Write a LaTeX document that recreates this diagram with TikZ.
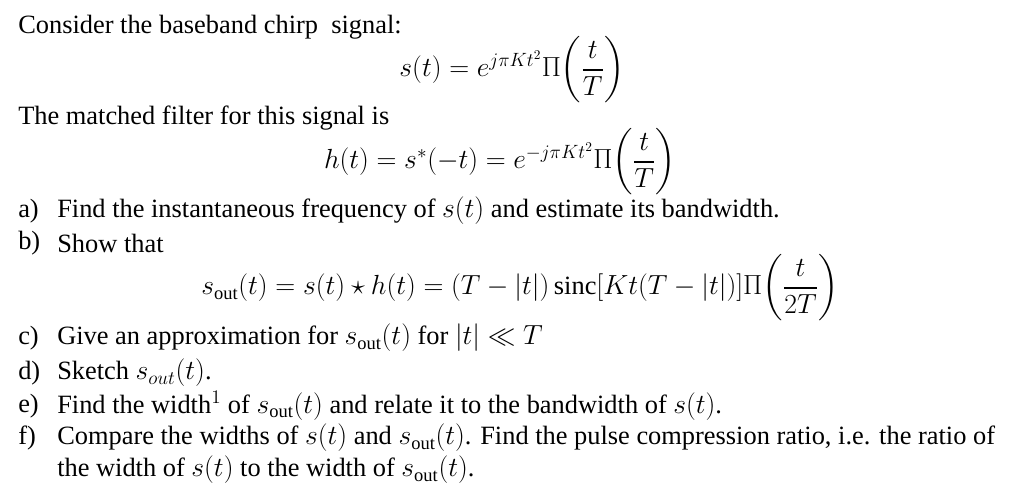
\documentclass[tikz,border=0pt]{standalone}
\usepackage{amsmath}
\usepackage{fontspec}
\setmainfont{Liberation Serif}
\begin{document}
\begin{tikzpicture}[x=0.75pt,y=-0.75pt,
  txt/.style={anchor=west,inner sep=0pt,font=\fontsize{19.8}{22}\selectfont},
  eq/.style={anchor=center,inner sep=0pt,font=\fontsize{19.8}{22}\selectfont}]
\useasboundingbox (0,0) rectangle (1024,491);
\node[txt] (l1) at (18,27) {Consider the baseband chirp\ \ signal:};
\node[eq] (e1) at (512,70) {$s(t)=e^{j\pi Kt^2}\Pi\biggl(\dfrac{t}{T}\biggr)$};
\node[txt] (l2) at (18,118) {The matched filter for this signal is};
\node[eq] (e2) at (500,162) {$h(t)=s^*(-t)=e^{-j\pi Kt^2}\Pi\biggl(\dfrac{t}{T}\biggr)$};
\node[txt] (a) at (18,211) {a)};
\node[txt] (at) at (57,211) {Find the instantaneous frequency of $s(t)$ and estimate its bandwidth.};
\node[txt] (b) at (18,243) {b)};
\node[txt] (bt) at (57,243) {Show that};
\node[eq] (e3) at (520,288) {$s_{\mathrm{out}}(t)=s(t)\star h(t)=(T-|t|)\operatorname{sinc}[Kt(T-|t|)]\Pi\biggl(\dfrac{t}{2T}\biggr)$};
\node[txt] (c) at (18,338) {c)};
\node[txt] (ct) at (57,338) {Give an approximation for $s_{\mathrm{out}}(t)$ for $|t|\ll T$};
\node[txt] (d) at (18,373) {d)};
\node[txt] (dt) at (57,373) {Sketch $s_{out}(t)$.};
\node[txt] (e) at (18,406) {e)};
\node[txt] (et) at (57,406) {Find the width$^{1}$ of $s_{\mathrm{out}}(t)$ and relate it to the bandwidth of $s(t)$.};
\node[txt] (f) at (18,438) {f)};
\node[txt] (ft) at (57,438) {Compare the widths of $s(t)$ and $s_{\mathrm{out}}(t)$. Find the pulse compression ratio, i.e. the ratio of};
\node[txt] (ft2) at (57,470) {the width of $s(t)$ to the width of $s_{\mathrm{out}}(t)$.};
\end{tikzpicture}
\end{document}
